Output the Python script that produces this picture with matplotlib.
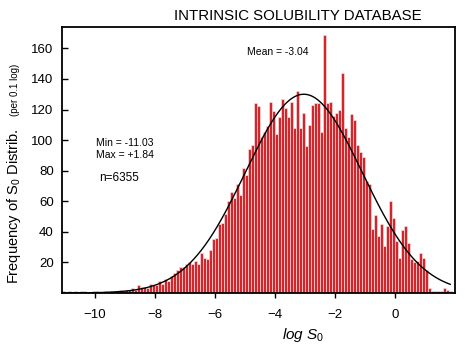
import numpy as np
import matplotlib
matplotlib.use("Agg")
import matplotlib.pyplot as plt

# ===== DATA =====
bin_width = 0.1
first_bin = -11.1          # left edge of the first 0.1-log bin
counts = [
    1, 0, 1, 0, 1, 0, 1, 1, 0, 0, 1, 1, 0, 0, 1, 0, 1, 1, 1, 2, 1, 2, 2,
    3, 2, 5, 4, 4, 3, 6, 5, 5, 8, 6, 9, 8, 11, 13, 15, 17, 17, 19, 20,
    19, 21, 19, 26, 23, 22, 28, 35, 36, 45, 46, 52, 60, 66, 62, 71, 64, 82,
    77, 94, 97, 124, 122, 102, 105, 109, 125, 119, 104, 115, 127, 121, 115, 125, 108, 132, 108, 118,
    96, 110, 123, 124, 124, 105, 169, 124, 125, 116, 118, 120, 144, 108, 102, 117, 113,
    97, 92, 89, 73, 71, 42, 51, 37, 45, 31, 44, 60, 49, 34, 23, 41, 44, 33, 22, 20, 21, 26, 23, 15,
    3, 1, 1, 1, 1, 3, 2, 1,
]
mean_log = -3.04
sd_log = 1.95
n_total = 6355
min_log = -11.03
max_log = 1.84
x_ticks = [-10, -8, -6, -4, -2, 0]
y_ticks = [20, 40, 60, 80, 100, 120, 140, 160]

# ===== STYLE =====
plt.rcParams['font.family'] = 'Liberation Sans'
plt.rcParams['mathtext.fontset'] = 'custom'
plt.rcParams['mathtext.rm'] = 'Liberation Sans'
plt.rcParams['mathtext.it'] = 'Liberation Sans:italic'

W, H = 474, 356
fig = plt.figure(figsize=(W / 100, H / 100), dpi=100)
ax = fig.add_axes([62 / W, 1 - 293 / H, (455 - 62) / W, (293 - 27) / H])

# ===== BARS + FITTED NORMAL =====
centers = first_bin + bin_width * (np.arange(len(counts)) + 0.5)
ax.bar(centers, counts, width=bin_width, color='#d0262c',
       edgecolor='#fbe3e3', linewidth=0.45)

xs = np.linspace(min_log, max_log, 400)
amp = n_total * bin_width / (sd_log * np.sqrt(2 * np.pi))
ax.plot(xs, amp * np.exp(-0.5 * ((xs - mean_log) / sd_log) ** 2), color='black', lw=1.0)

ax.set_xlim(-11.1, 2.0)
ax.set_ylim(0, 174)
ax.set_xticks(x_ticks)
ax.set_yticks(y_ticks)
ax.tick_params(axis='x', direction='out', length=3.5, width=1.0, pad=8, labelsize=9.5)
ax.tick_params(axis='y', direction='in', length=4.5, width=1.0, pad=6, labelsize=9.5)
for s in ax.spines.values():
    s.set_linewidth(1.3)

# ===== TEXTS =====
ax.text(-4.94, 157.5, f"Mean = {mean_log:.2f}", fontsize=7.5, va='center', ha='left')
ax.text(-9.97, 98.2, f"Min = {min_log:.2f}", fontsize=7.5, va='center', ha='left')
ax.text(-9.97, 90.5, f"Max = +{max_log:.2f}", fontsize=7.5, va='center', ha='left')
ax.text(-9.86, 75.5, f"n={n_total}", fontsize=8.5, va='center', ha='left')

fig.text(297.5 / W, 1 - 15.5 / H, "INTRINSIC SOLUBILITY DATABASE", fontsize=10.8,
         ha='center', va='center')
fig.text(303 / W, 1 - 335 / H, r"$log\ S_{\mathit{0}}$", fontsize=11, ha='center', va='center')

fig.text(14 / W, 1 - 284 / H, r"Frequency of S$_0$ Distrib.", fontsize=10.5,
         rotation=90, ha='center', va='bottom')
fig.text(15.5 / W, 1 - 116 / H, "(per 0.1 log)", fontsize=7, rotation=90,
         ha='center', va='bottom')

fig.savefig("out.png", dpi=100)
